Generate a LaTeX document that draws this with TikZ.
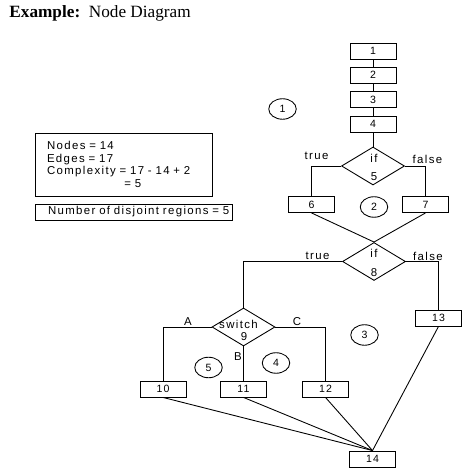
\documentclass[tikz,border=0pt]{standalone}
\usepackage{fontspec}
\setmainfont{Liberation Serif}
\newfontfamily\diagfont[LetterSpace=12]{Liberation Sans}
\usetikzlibrary{shapes.geometric}

\begin{document}
\begin{tikzpicture}[line width=0.5pt,
        stepbox/.style={draw, minimum width=0.92cm, minimum height=0.32cm, inner sep=0pt, font=\diagfont\fontsize{6}{6.5}\selectfont},
        decision/.style={draw, diamond, minimum width=1.26cm, minimum height=0.76cm, inner sep=0pt},
        region/.style={draw, ellipse, minimum width=0.55cm, minimum height=0.41cm, inner sep=0pt, font=\diagfont\fontsize{6}{6.5}\selectfont},
        lbl/.style={inner sep=0pt, font=\diagfont\fontsize{6.5}{7}\selectfont},
        infobox/.style={draw, align=left, inner ysep=0pt, font=\diagfont\fontsize{6.5}{7.1}\selectfont}]
    \useasboundingbox (0,0) rectangle (9.48,9.48);

    % Title
    \node[anchor=base west, inner sep=0pt, font=\fontsize{9.8}{12}\selectfont] (title) at (0.18, 9.13) {\textbf{Example:}\hspace{0.5em}Node Diagram};

    % Summary boxes
    \node[infobox, text width=3.06cm, inner xsep=0.24cm, minimum height=1.26cm] (metrics) at (2.47, 6.19)
        {Nodes = 14\\Edges = 17\\Complexity = 17 - 14 + 2\\\hspace*{44pt}= 5};
    \node[infobox, text width=3.42cm, inner xsep=0.26cm, minimum height=0.32cm] (regions) at (2.67, 5.24)
        {\mbox{Number of disjoint regions = 5}};

    % Sequence 1-4 and first decision
    \node[stepbox] (n1) at (7.46, 8.46) {1};
    \node[stepbox] (n2) at (7.46, 7.98) {2};
    \node[stepbox] (n3) at (7.46, 7.49) {3};
    \node[stepbox] (n4) at (7.46, 7.00) {4};
    \node[decision] (d5) at (7.46, 6.16) {};
    \node[lbl] (if5) at (7.48, 6.32) {if};
    \node[lbl] (num5) at (7.48, 5.94) {5};
    \node[lbl] (true5) at (6.33, 6.36) {true};
    \node[lbl] (false5) at (8.55, 6.29) {false};
    \node[stepbox] (n6) at (6.23, 5.39) {6};
    \node[stepbox] (n7) at (8.51, 5.39) {7};

    % Second decision
    \node[decision] (d8) at (7.48, 4.25) {};
    \node[lbl] (if8) at (7.48, 4.42) {if};
    \node[lbl] (num8) at (7.48, 4.02) {8};
    \node[lbl] (true8) at (6.35, 4.36) {true};
    \node[lbl] (false8) at (8.56, 4.36) {false};
    \node[stepbox] (n13) at (8.77, 3.12) {13};

    % Switch
    \node[decision] (d9) at (4.87, 2.94) {};
    \node[lbl] (sw9) at (4.77, 3.00) {switch};
    \node[lbl] (num9) at (4.88, 2.74) {9};
    \node[lbl] (caseA) at (3.76, 3.04) {A};
    \node[lbl] (caseB) at (4.76, 2.34) {B};
    \node[lbl] (caseC) at (5.94, 3.04) {C};
    \node[stepbox] (n10) at (3.26, 1.70) {10};
    \node[stepbox] (n11) at (4.87, 1.70) {11};
    \node[stepbox] (n12) at (6.51, 1.70) {12};
    \node[stepbox] (n14) at (7.45, 0.30) {14};

    % Regions
    \node[region] (r1) at (5.65, 7.30) {1};
    \node[region] (r2) at (7.48, 5.34) {2};
    \node[region] (r3) at (7.29, 2.78) {3};
    \node[region] (r4) at (5.52, 2.22) {4};
    \node[region] (r5) at (4.17, 2.13) {5};

    % Edges
    \draw (n1) -- (n2) -- (n3) -- (n4) -- (d5);
    \draw (d5.west) -| (n6.north);
    \draw (d5.east) -| (n7.north);
    \draw (n6.south) -- (d8.north);
    \draw (n7.south) -- (d8.north);
    \draw (d8.west) -| (d9.north);
    \draw (d8.east) -| (n13.north);
    \draw (d9.west) -| (n10.north);
    \draw (d9.south) -- (n11.north);
    \draw (d9.east) -| (n12.north);
    \draw (n10.south) -- (n14.north);
    \draw (n11.south) -- (n14.north);
    \draw (n12.south) -- (n14.north);
    \draw (n13.south) -- (n14.north);
\end{tikzpicture}
\end{document}
